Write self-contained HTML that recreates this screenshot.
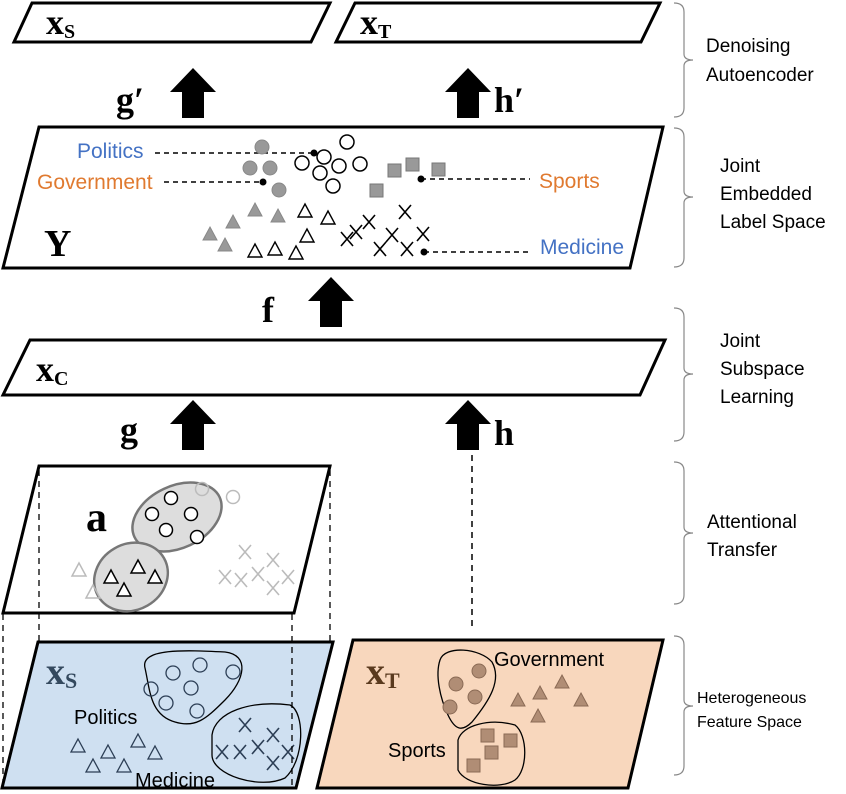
<!DOCTYPE html>
<html><head><meta charset="utf-8"><style>
html,body{margin:0;padding:0;background:#fff;}
svg{display:block;}
.s{font-family:"Liberation Sans",sans-serif;}
.m{font-family:"Liberation Serif",serif;font-weight:bold;}
</style></head><body>
<svg width="846" height="794" viewBox="0 0 846 794" xmlns="http://www.w3.org/2000/svg">
<defs>
<path id="up" d="M-11,50 L-11,24 L-23,24 L0,0 L23,24 L11,24 L11,50 Z" fill="#000"/>
<g id="x"><path d="M-6,-7 L6,7 M6,-7 L-6,7" stroke-width="1.6" fill="none"/></g>
</defs>
<!-- top boxes -->
<polygon points="32,3 330,3 311,42 14,42" fill="#fff" stroke="#000" stroke-width="3"/>
<polygon points="355,3 660,3 641,42 336,42" fill="#fff" stroke="#000" stroke-width="3"/>
<text x="46" y="34" class="m" font-size="36">x<tspan font-size="20" dy="4">S</tspan></text>
<text x="360" y="34" class="m" font-size="36">x<tspan font-size="20" dy="4">T</tspan></text>
<use href="#up" x="193" y="68"/>
<use href="#up" x="468" y="68"/>
<text x="116" y="112" class="m" font-size="36">g′</text>
<text x="494" y="112" class="m" font-size="36">h′</text>
<!-- Y box -->
<polygon points="39,127 663,127 630,268 3,268" fill="#fff" stroke="#000" stroke-width="3"/>
<text x="44" y="256" class="m" font-size="38">Y</text>
<text x="77" y="158" class="s" font-size="21" fill="#4472c4">Politics</text>
<text x="37" y="189" class="s" font-size="21" fill="#e07a30">Government</text>
<text x="539" y="188" class="s" font-size="21" fill="#e07a30">Sports</text>
<text x="540" y="254" class="s" font-size="21" fill="#4472c4">Medicine</text>
<g stroke="#000" stroke-width="1.5" stroke-dasharray="5,4" fill="none">
<line x1="155" y1="153" x2="314" y2="153"/>
<line x1="164" y1="182" x2="263" y2="182"/>
<line x1="421" y1="179" x2="530" y2="179"/>
<line x1="424" y1="252" x2="530" y2="252"/>
</g>
<g fill="#000"><circle cx="314" cy="153" r="3.5"/><circle cx="263" cy="182" r="3.5"/><circle cx="421" cy="179" r="3.5"/><circle cx="424" cy="252" r="3.5"/></g>
<g fill="#999" stroke="#888"><circle cx="262" cy="147" r="7"/><circle cx="250" cy="168" r="7"/><circle cx="270" cy="168" r="7"/><circle cx="279" cy="190" r="7"/></g>
<g fill="#fff" stroke="#000" stroke-width="1.5"><circle cx="347" cy="142" r="7"/><circle cx="324" cy="157" r="7"/><circle cx="302" cy="163" r="7"/><circle cx="339" cy="166" r="7"/><circle cx="320" cy="173" r="7"/><circle cx="360" cy="164" r="7"/><circle cx="333" cy="186" r="7"/></g>
<g fill="#999" stroke="#777"><rect x="388" y="164" width="13" height="13"/><rect x="406" y="158" width="13" height="13"/><rect x="432" y="163" width="13" height="13"/><rect x="370" y="184" width="13" height="13"/></g>
<g fill="#999" stroke="#888"><path d="M210,227 l7,13 h-14z"/><path d="M233,215 l7,13 h-14z"/><path d="M255,203 l7,13 h-14z"/><path d="M278,209 l7,13 h-14z"/><path d="M225,238 l7,13 h-14z"/></g>
<g fill="#fff" stroke="#000" stroke-width="1.4"><path d="M305,204 l7,13 h-14z"/><path d="M328,211 l7,13 h-14z"/><path d="M307,229 l7,13 h-14z"/><path d="M255,244 l7,13 h-14z"/><path d="M275,242 l7,13 h-14z"/><path d="M296,246 l7,13 h-14z"/></g>
<g stroke="#000"><use href="#x" x="356" y="232"/><use href="#x" x="369" y="222"/><use href="#x" x="405" y="212"/><use href="#x" x="392" y="235"/><use href="#x" x="423" y="234"/><use href="#x" x="380" y="249"/><use href="#x" x="407" y="249"/><use href="#x" x="347" y="239"/></g>
<!-- f -->
<use href="#up" x="331" y="277"/>
<text x="262" y="322" class="m" font-size="36">f</text>
<!-- XC -->
<polygon points="30,340 665,340 640,395 3,395" fill="#fff" stroke="#000" stroke-width="3"/>
<text x="36" y="381" class="m" font-size="36">x<tspan font-size="20" dy="4">C</tspan></text>
<use href="#up" x="193" y="400"/>
<use href="#up" x="468" y="400"/>
<text x="120" y="442" class="m" font-size="36">g</text>
<text x="494" y="445" class="m" font-size="36">h</text>
<line x1="472" y1="455" x2="472" y2="628" stroke="#000" stroke-width="1.5" stroke-dasharray="6,5"/>
<!-- attention box -->
<polygon points="39,466 330,466 294,613 3,613" fill="#fff" stroke="#000" stroke-width="3"/>
<text x="86" y="531" class="m" font-size="42">a</text>
<ellipse cx="177" cy="517" rx="47" ry="31" transform="rotate(-25 177 517)" fill="#ddd" stroke="#777" stroke-width="2.5"/>
<ellipse cx="131" cy="577" rx="38" ry="33" transform="rotate(-30 131 577)" fill="#ddd" stroke="#777" stroke-width="2.5"/>
<g fill="#fff" stroke="#000" stroke-width="1.5"><circle cx="171" cy="498" r="6.5"/><circle cx="152" cy="514" r="6.5"/><circle cx="191" cy="514" r="6.5"/><circle cx="166" cy="530" r="6.5"/><circle cx="197" cy="537" r="6.5"/></g>
<g fill="none" stroke="#bbb" stroke-width="1.5"><circle cx="202" cy="489" r="6.5"/><circle cx="233" cy="497" r="6.5"/><path d="M79,563 l7,13 h-14z"/><path d="M93,585 l7,13 h-14z"/></g>
<g fill="#fff" stroke="#000" stroke-width="1.5"><path d="M138,560 l7,13 h-14z"/><path d="M111,570 l7,13 h-14z"/><path d="M155,570 l7,13 h-14z"/><path d="M124,583 l7,13 h-14z"/></g>
<g stroke="#bbb"><use href="#x" x="245" y="552"/><use href="#x" x="225" y="577"/><use href="#x" x="241" y="580"/><use href="#x" x="258" y="574"/><use href="#x" x="273" y="560"/><use href="#x" x="288" y="577"/><use href="#x" x="273" y="588"/></g>
<!-- XS bottom -->
<polygon points="38,642 333,642 296,788 2,788" fill="#cfe0f1" stroke="#000" stroke-width="3"/>
<text x="46" y="684" class="m" font-size="38" fill="#34495e">x<tspan font-size="22" dy="4">S</tspan></text>
<path d="M145,668 C140,648 185,650 225,652 C250,655 245,680 225,700 C205,720 195,728 175,722 C150,715 150,690 145,668 Z" fill="none" stroke="#000" stroke-width="1.3"/>
<path d="M212,735 C215,712 250,700 290,705 C305,712 305,760 285,778 C260,790 212,775 212,755 Z" fill="none" stroke="#000" stroke-width="1.3"/>
<g fill="none" stroke="#2c3e55" stroke-width="1.3"><circle cx="173" cy="673" r="7"/><circle cx="200" cy="665" r="7"/><circle cx="233" cy="672" r="7"/><circle cx="151" cy="689" r="7"/><circle cx="191" cy="688" r="7"/><circle cx="166" cy="703" r="7"/><circle cx="197" cy="711" r="7"/>
<path d="M78,739 l7,13 h-14z"/><path d="M108,745 l7,13 h-14z"/><path d="M138,734 l7,13 h-14z"/><path d="M155,746 l7,13 h-14z"/><path d="M93,759 l7,13 h-14z"/><path d="M124,759 l7,13 h-14z"/></g>
<g stroke="#2c3e55"><use href="#x" x="245" y="725"/><use href="#x" x="273" y="735"/><use href="#x" x="222" y="752"/><use href="#x" x="240" y="752"/><use href="#x" x="258" y="747"/><use href="#x" x="288" y="752"/><use href="#x" x="273" y="763"/></g>
<text x="74" y="724" class="s" font-size="20">Politics</text>
<text x="135" y="787" class="s" font-size="20">Medicine</text>
<!-- XT bottom -->
<polygon points="353,640 663,640 628,788 317,788" fill="#f8d7bd" stroke="#000" stroke-width="3"/>
<text x="366" y="684" class="m" font-size="38" fill="#5a3a1e">x<tspan font-size="22" dy="4">T</tspan></text>
<path d="M440,660 C445,645 480,648 492,662 C502,680 490,700 472,722 C462,732 455,730 448,715 C440,698 435,675 440,660 Z" fill="none" stroke="#000" stroke-width="1.3"/>
<path d="M458,740 C462,725 490,718 515,725 C528,735 528,770 515,780 C500,790 465,785 458,770 Z" fill="none" stroke="#000" stroke-width="1.3"/>
<g fill="#b08d75" stroke="#8a6a55"><circle cx="479" cy="671" r="7"/><circle cx="456" cy="684" r="7"/><circle cx="475" cy="697" r="7"/><circle cx="450" cy="707" r="7"/>
<rect x="481" y="729" width="13" height="13"/><rect x="504" y="734" width="13" height="13"/><rect x="485" y="746" width="13" height="13"/><rect x="467" y="759" width="13" height="13"/>
<path d="M518,693 l7,13 h-14z"/><path d="M540,686 l7,13 h-14z"/><path d="M562,675 l7,13 h-14z"/><path d="M581,693 l7,13 h-14z"/><path d="M538,709 l7,13 h-14z"/></g>
<text x="494" y="666" class="s" font-size="20">Government</text>
<text x="388" y="757" class="s" font-size="20">Sports</text>
<!-- dashed projection lines -->
<g stroke="#000" stroke-width="1.3" stroke-dasharray="6,5">
<line x1="39" y1="470" x2="39" y2="642"/>
<line x1="330" y1="470" x2="330" y2="642"/>
<line x1="3" y1="614" x2="3" y2="788"/>
<line x1="292" y1="614" x2="292" y2="788"/>
</g>
<!-- braces -->
<g fill="none" stroke="#888" stroke-width="1.2">
<path d="M674,3 Q684,3 684,12 L684,54 Q684,60 693,60 Q684,60 684,66 L684,108 Q684,117 674,117"/>
<path d="M674,128 Q684,128 684,137 L684,191 Q684,197 693,197 Q684,197 684,203 L684,258 Q684,267 674,267"/>
<path d="M674,308 Q684,308 684,317 L684,368 Q684,374 693,374 Q684,374 684,380 L684,432 Q684,441 674,441"/>
<path d="M674,462 Q684,462 684,471 L684,527 Q684,533 693,533 Q684,533 684,539 L684,595 Q684,604 674,604"/>
<path d="M674,636 Q684,636 684,645 L684,700 Q684,706 693,706 Q684,706 684,712 L684,766 Q684,775 674,775"/>
</g>
<g class="s" fill="#000" font-size="19">
<text x="706" y="52">Denoising</text><text x="706" y="81">Autoencoder</text>
<text x="720" y="172">Joint</text><text x="720" y="200">Embedded</text><text x="720" y="228">Label Space</text>
<text x="720" y="347">Joint</text><text x="720" y="375">Subspace</text><text x="720" y="403">Learning</text>
<text x="707" y="528">Attentional</text><text x="707" y="556">Transfer</text>
<text x="697" y="703" font-size="16">Heterogeneous</text><text x="697" y="727" font-size="16">Feature Space</text>
</g>
</svg>
</body></html>
